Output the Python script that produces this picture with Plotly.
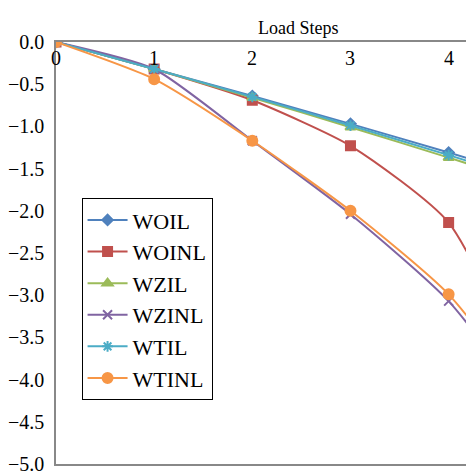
import plotly.graph_objects as go

steps = [0, 1, 2, 3, 4, 5]
woil = [0, -0.32, -0.64, -0.97, -1.31, -1.66]
woinl = [0, -0.32, -0.69, -1.23, -2.14, -4.5]
wzil = [0, -0.32, -0.66, -1.01, -1.37, -1.74]
wzinl = [0, -0.32, -1.17, -2.04, -3.07, -4.6]
wtil = [0, -0.32, -0.65, -0.99, -1.34, -1.70]
wtinl = [0, -0.44, -1.17, -2.0, -2.99, -4.5]
xticks = [0, 1, 2, 3, 4]

series = [
    ('WOIL', woil, '#4F81BD', 'diamond', 8),
    ('WOINL', woinl, '#C0504D', 'square', 9),
    ('WZIL', wzil, '#9BBB59', 'triangle-up', 9),
    ('WZINL', wzinl, '#8064A2', 'x-thin-open', 9),
    ('WTIL', wtil, '#4BACC6', 'asterisk-open', 9),
    ('WTINL', wtinl, '#F79646', 'circle', 10),
]

fig = go.Figure()
for name, vals, color, sym, size in series:
    fig.add_trace(go.Scatter(x=steps, y=vals, name=name, mode='lines+markers',
                             line=dict(color=color, width=2, shape='spline', smoothing=0.6),
                             marker=dict(symbol=sym, size=size, color=color,
                                         line=dict(color=color, width=2))))

font = 'Liberation Serif'
annots = [dict(text='Load Steps', x=0.57, y=1.0, xref='paper', yref='paper',
               yanchor='bottom', showarrow=False, font=dict(size=18), yshift=2)]
for t in xticks:
    annots.append(dict(text=str(t), x=t, y=1.0, xref='x', yref='paper', yanchor='top',
                       showarrow=False, font=dict(size=20), yshift=-3))

fig.update_layout(
    width=474, height=474, plot_bgcolor='white', paper_bgcolor='white',
    margin=dict(l=21, r=0, t=34, b=18),
    font=dict(family=font, size=20, color='black'),
    showlegend=True,
    legend=dict(x=0.06, y=0.63, xanchor='left', yanchor='top', bgcolor='white',
                bordercolor='black', borderwidth=1, font=dict(size=22), tracegroupgap=4,
                itemwidth=40),
    xaxis=dict(range=[0, 4.34], showticklabels=False, showline=True, mirror=True,
               linecolor='#888', linewidth=1.5, showgrid=False, zeroline=False, ticks=''),
    yaxis=dict(range=[-5, 0], dtick=0.5, showline=True, linecolor='#888', linewidth=1.5,
               showgrid=False, zeroline=False, ticks='', tickformat='.1f',
               ticklabelstandoff=6),
    annotations=annots,
)
fig.write_html('out.html')
